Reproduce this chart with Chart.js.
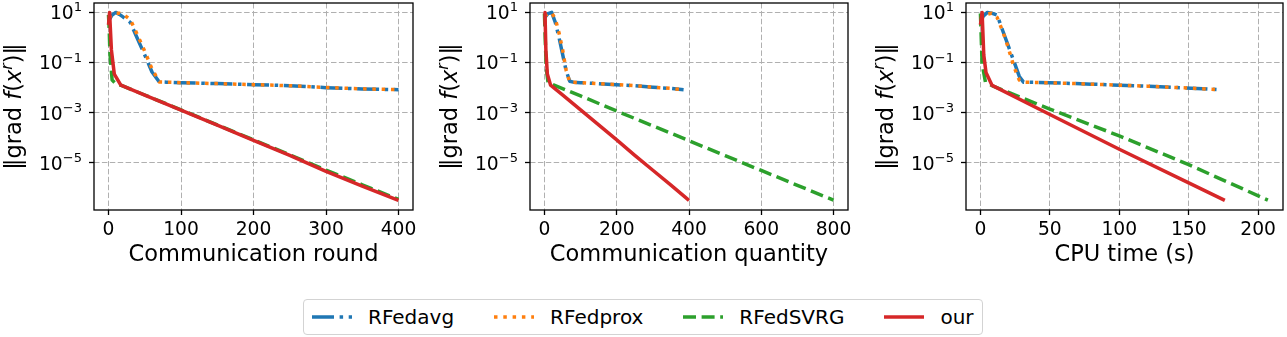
<!DOCTYPE html>
<html>
<head>
<meta charset="utf-8">
<script src="https://cdn.jsdelivr.net/npm/chart.js@4.4.0/dist/chart.umd.min.js"></script>
<style>
  body { margin: 0; background: #fff; width: 1287px; height: 337px; position: relative; overflow: hidden; font-family: "DejaVu Sans", sans-serif; }
  canvas { position: absolute; top: 0; }
  #legend { position: absolute; left: 303px; top: 299px; height: 36px; box-sizing: border-box; border: 1px solid #d3d3d3; border-radius: 4px; display: flex; align-items: center; padding: 0 8px; font-size: 20px; color: #000; }
  .item { display: flex; align-items: center; margin-right: 40px; }
  .item:last-child { margin-right: 0; }
  .item svg { margin-right: 16px; }
</style>
</head>
<body>
<canvas id="c1" width="425" height="270" style="left:0px"></canvas>
<canvas id="c2" width="425" height="270" style="left:432px"></canvas>
<canvas id="c3" width="419" height="270" style="left:868px"></canvas>
<div id="legend"></div>
<script>
// series names
const seriesNames = ["RFedavg", "RFedprox", "RFedSVRG", "our"];

// panel 1: communication round
const avgX1 = [0, 5, 10, 15, 20, 30, 40, 50, 60, 70, 80, 100, 150, 200, 250, 300, 350, 400];
const avgY1 = [4.5, 7.9, 10, 8.3, 6.6, 4.0, 0.89, 0.2, 0.042, 0.017, 0.0166, 0.0158, 0.0145, 0.0132, 0.012, 0.01, 0.0089, 0.0083];
const proxX1 = [0, 5, 10, 15, 20, 30, 40, 50, 60, 70, 80, 100, 150, 200, 250, 300, 350, 400];
const proxY1 = [6.3, 7.9, 9.3, 9.3, 8.5, 5.2, 1.26, 0.28, 0.056, 0.017, 0.0166, 0.0158, 0.0145, 0.0132, 0.012, 0.0102, 0.009, 0.0083];
const svrgX1 = [0, 1, 2, 5, 10, 17, 50, 100, 150, 200, 250, 300, 350, 400];
const svrgY1 = [8, 2, 0.23, 0.02, 0.0145, 0.0125, 0.0051, 1.3e-3, 3.3e-4, 8.3e-5, 2.1e-5, 5.2e-6, 1.35e-6, 3.5e-7];
const ourX1 = [0, 1.5, 4, 8, 17, 50, 100, 150, 200, 250, 300, 350, 400];
const ourY1 = [3.2, 10, 0.32, 0.035, 0.0126, 0.005, 1.26e-3, 3.2e-4, 7.9e-5, 2e-5, 4.6e-6, 1.2e-6, 3.2e-7];

// panel 2: communication quantity
const avgX2 = [0, 10, 20, 30, 40, 50, 60, 70, 80, 100, 150, 200, 250, 300, 350, 385];
const avgY2 = [6, 9, 10, 4.0, 1.05, 0.22, 0.047, 0.018, 0.0166, 0.0158, 0.0145, 0.0132, 0.012, 0.0105, 0.0093, 0.0083];
const proxX2 = [0, 10, 20, 30, 40, 50, 60, 70, 80, 100, 150, 200, 250, 300, 350, 385];
const proxY2 = [7, 9, 9.5, 5.6, 1.6, 0.34, 0.049, 0.0166, 0.0164, 0.0158, 0.0145, 0.0132, 0.012, 0.0105, 0.0093, 0.0083];
const svrgX2 = [0, 2, 5, 10, 20, 100, 200, 300, 400, 500, 600, 700, 800];
const svrgY2 = [9, 1.0, 0.06, 0.016, 0.0138, 4.7e-3, 1.17e-3, 3.0e-4, 7.7e-5, 1.95e-5, 5.0e-6, 1.28e-6, 3.3e-7];
const ourX2 = [0, 1.5, 4, 8, 17, 50, 100, 150, 200, 250, 300, 350, 400];
const ourY2 = [3.2, 10, 0.3, 0.035, 0.0126, 5.2e-3, 1.3e-3, 3.3e-4, 8.3e-5, 2.0e-5, 5.1e-6, 1.3e-6, 3.2e-7];

// panel 3: CPU time (s)
const avgX3 = [0, 2, 5, 8, 12, 16, 20, 24, 28, 31, 40, 60, 80, 100, 120, 140, 160, 172];
const avgY3 = [4, 7, 10, 9.3, 7.8, 1.9, 0.47, 0.115, 0.028, 0.0166, 0.0162, 0.0151, 0.0138, 0.0126, 0.0115, 0.0102, 0.0091, 0.0083];
const proxX3 = [0, 2, 5, 8, 12, 16, 20, 24, 28, 31, 40, 60, 80, 100, 120, 140, 160, 172];
const proxY3 = [5.6, 7.1, 8.5, 9.3, 6.3, 1.8, 0.4, 0.071, 0.02, 0.0166, 0.0162, 0.0151, 0.0138, 0.0126, 0.0115, 0.0102, 0.0091, 0.0083];
const svrgX3 = [0, 1.2, 3.6, 9.6, 50, 100, 150, 207];
const svrgY3 = [9, 0.09, 0.0166, 0.0112, 1.4e-3, 1.2e-4, 8.5e-6, 3.3e-7];
const ourX3 = [0, 1.2, 2.4, 4, 8.4, 50, 100, 150, 176];
const ourY3 = [3.2, 10, 0.2, 0.04, 0.0123, 8.5e-4, 3.5e-5, 1.6e-6, 3.2e-7];

// tick labels
const xTicks1 = [0, 100, 200, 300, 400];
const xTicks2 = [0, 200, 400, 600, 800];
const xTicks3 = [0, 50, 100, 150, 200];
const yTickValues = [1e-5, 1e-3, 1e-1, 1e1];
const yTickBase = "10";
const yTickExps = ["\u22125", "\u22123", "\u22121", "1"];
const xTitles = ["Communication round", "Communication quantity", "CPU time (s)"];

// line styles (matplotlib tab colours and dash patterns)
const styles = [
  { color: "#1f77b4", dash: [22, 5.6, 3.5, 5.6] },
  { color: "#ff7f0e", dash: [3.5, 5.8] },
  { color: "#2ca02c", dash: [13, 5.6] },
  { color: "#d62728", dash: [] }
];
const LW = 3.5;
const TICK_FONT = 18.7;

Chart.defaults.font.family = "'DejaVu Sans', sans-serif";
Chart.defaults.color = "#000";

function pts(xs, ys) {
  return xs.map((x, i) => ({ x: x, y: ys[i] }));
}

// draws ‖grad f(x^r)‖ rotated, with the italic bits
function drawYLabel(ctx, cx, cy) {
  const size = 22.5;
  const parts = [
    ["\u2016grad ", "", 0, 1],
    ["f", "italic ", 0, 1],
    ["(", "", 0, 1],
    ["x", "italic ", 0, 1],
    ["r", "italic ", -0.4, 0.7],
    [")\u2016", "", 0, 1]
  ];
  ctx.save();
  ctx.translate(cx, cy);
  ctx.rotate(-Math.PI / 2);
  ctx.fillStyle = "#000";
  ctx.textBaseline = "alphabetic";
  let total = 0;
  parts.forEach(p => {
    ctx.font = p[1] + (size * p[3]) + "px 'DejaVu Sans'";
    p.w = ctx.measureText(p[0]).width;
    total += p.w;
  });
  let x = -total / 2;
  const base = size * 0.26;
  parts.forEach(p => {
    ctx.font = p[1] + (size * p[3]) + "px 'DejaVu Sans'";
    ctx.fillText(p[0], x, base + p[2] * size);
    x += p.w;
  });
  ctx.restore();
}

// y tick labels as 10 with a raised exponent
function drawYTicks(chart) {
  const { ctx, chartArea: a } = chart;
  const scale = chart.scales.y;
  const right = a.left - 12;
  ctx.save();
  ctx.fillStyle = "#000";
  ctx.textBaseline = "alphabetic";
  ctx.textAlign = "left";
  yTickValues.forEach((v, i) => {
    const y = scale.getPixelForValue(v) + TICK_FONT * 0.3645;
    ctx.font = TICK_FONT + "px 'DejaVu Sans'";
    const wb = ctx.measureText(yTickBase).width;
    ctx.font = (TICK_FONT * 0.7) + "px 'DejaVu Sans'";
    const we = ctx.measureText(yTickExps[i]).width;
    const x0 = right - wb - we;
    ctx.font = TICK_FONT + "px 'DejaVu Sans'";
    ctx.fillText(yTickBase, x0, y);
    ctx.font = (TICK_FONT * 0.7) + "px 'DejaVu Sans'";
    ctx.fillText(yTickExps[i], x0 + wb, y - TICK_FONT * 0.42);
  });
  ctx.restore();
}

const framePlugin = {
  id: "frame",
  afterDraw(chart) {
    const { ctx, chartArea: a } = chart;
    ctx.save();
    ctx.strokeStyle = "#000";
    ctx.lineWidth = 1.3;
    ctx.strokeRect(a.left, a.top, a.right - a.left, a.bottom - a.top);
    ctx.restore();
    drawYTicks(chart);
    drawYLabel(ctx, a.left - 79, (a.top + a.bottom) / 2);
  }
};

function makePanel(id, series, xTicks, xMin, xMax, xTitle, yWidth, padRight) {
  const datasets = series.map((s, i) => ({
    label: seriesNames[i],
    data: pts(s[0], s[1]),
    borderColor: styles[i].color,
    borderDash: styles[i].dash,
    borderWidth: LW,
    borderCapStyle: "butt",
    borderJoinStyle: "round",
    pointRadius: 0,
    fill: false,
    tension: 0,
    order: 3 - i
  }));

  new Chart(document.getElementById(id), {
    type: "line",
    data: { datasets: datasets },
    plugins: [framePlugin],
    options: {
      responsive: false,
      animation: false,
      layout: { padding: { top: 3, right: padRight, bottom: 0, left: 0 } },
      plugins: { legend: { display: false }, tooltip: { enabled: false } },
      scales: {
        x: {
          type: "linear",
          min: xMin,
          max: xMax,
          afterBuildTicks: s => { s.ticks = xTicks.map(v => ({ value: v })); },
          afterFit: s => { s.height = 60; },
          ticks: { autoSkip: false, maxRotation: 0, padding: 4, font: { size: TICK_FONT }, callback: v => String(v) },
          grid: { color: "#b0b0b0", lineWidth: 1, tickColor: "#000", tickWidth: 1.3, tickLength: 5 },
          border: { display: false, dash: [5.5, 2.4] },
          title: { display: true, text: xTitle, font: { size: 22.5 }, padding: { top: 0, bottom: 1 } }
        },
        y: {
          type: "logarithmic",
          min: 1.33e-7,
          max: 23.7,
          afterBuildTicks: s => { s.ticks = yTickValues.map(v => ({ value: v })); },
          afterFit: s => { s.width = yWidth; },
          ticks: { display: false, autoSkip: false },
          grid: { color: "#b0b0b0", lineWidth: 1, tickColor: "#000", tickWidth: 1.3, tickLength: 5 },
          border: { display: false, dash: [5.5, 2.4] }
        }
      }
    }
  });
}

makePanel("c1", [[avgX1, avgY1], [proxX1, proxY1], [svrgX1, svrgY1], [ourX1, ourY1]], xTicks1, -20, 420, xTitles[0], 94, 12);
makePanel("c2", [[avgX2, avgY2], [proxX2, proxY2], [svrgX2, svrgY2], [ourX2, ourY2]], xTicks2, -40, 840, xTitles[1], 98, 9);
makePanel("c3", [[avgX3, avgY3], [proxX3, proxY3], [svrgX3, svrgY3], [ourX3, ourY3]], xTicks3, -10.4, 217.9, xTitles[2], 98, 4);

// legend
const legend = document.getElementById("legend");
seriesNames.forEach((name, i) => {
  const item = document.createElement("div");
  item.className = "item";
  const svg = document.createElementNS("http://www.w3.org/2000/svg", "svg");
  svg.setAttribute("width", "40");
  svg.setAttribute("height", "10");
  const line = document.createElementNS("http://www.w3.org/2000/svg", "line");
  line.setAttribute("x1", "0");
  line.setAttribute("y1", "5");
  line.setAttribute("x2", "40");
  line.setAttribute("y2", "5");
  line.setAttribute("stroke", styles[i].color);
  line.setAttribute("stroke-width", LW);
  if (styles[i].dash.length) line.setAttribute("stroke-dasharray", styles[i].dash.join(" "));
  svg.appendChild(line);
  const label = document.createElement("span");
  label.textContent = name;
  item.appendChild(svg);
  item.appendChild(label);
  legend.appendChild(item);
});
</script>
</body>
</html>
